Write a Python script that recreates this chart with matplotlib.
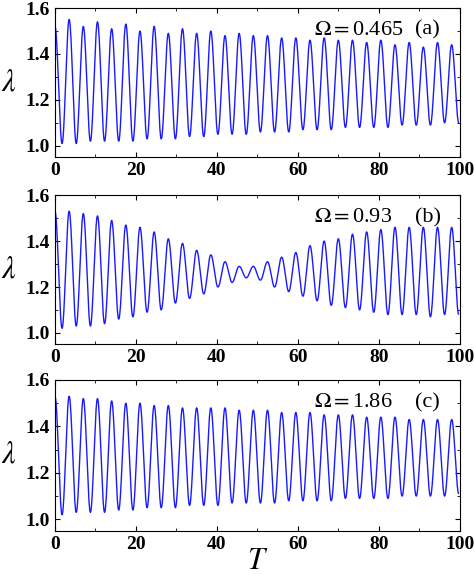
import numpy as np
import matplotlib
matplotlib.use("Agg")
import matplotlib.pyplot as plt

plt.rcParams['font.family'] = ['Liberation Serif', 'DejaVu Serif']
plt.rcParams['mathtext.fontset'] = 'stix'

period = 3.5
omegas = ["0.465", "0.93", "1.86"]
tags = ["(a)", "(b)", "(c)"]

# peak values (at T = k*period) and trough values (at T = k*period + period/2)
peaks_a = [1.52, 1.55, 1.52, 1.54, 1.51, 1.53, 1.50, 1.52, 1.49, 1.51, 1.49, 1.50, 1.48, 1.49, 1.48,
           1.48, 1.47, 1.47, 1.46, 1.47, 1.46, 1.46, 1.45, 1.46, 1.44, 1.45, 1.43, 1.45, 1.44]
troughs_a = [1.01, 1.01, 1.02, 1.02, 1.02, 1.02, 1.03, 1.03, 1.03, 1.04, 1.04, 1.05, 1.05, 1.05, 1.06,
             1.06, 1.06, 1.07, 1.07, 1.07, 1.08, 1.08, 1.08, 1.08, 1.09, 1.09, 1.09, 1.10, 1.10]
peaks_b = [1.53, 1.53, 1.52, 1.51, 1.49, 1.47, 1.46, 1.44, 1.41, 1.39, 1.36, 1.34, 1.31, 1.29, 1.29,
           1.31, 1.33, 1.35, 1.38, 1.40, 1.41, 1.43, 1.44, 1.45, 1.46, 1.46, 1.46, 1.46, 1.46]
troughs_b = [1.02, 1.03, 1.03, 1.04, 1.06, 1.07, 1.09, 1.10, 1.13, 1.15, 1.17, 1.20, 1.22, 1.24, 1.23,
             1.20, 1.18, 1.16, 1.14, 1.12, 1.11, 1.10, 1.09, 1.08, 1.08, 1.08, 1.07, 1.08, 1.08]
peaks_c = [1.53, 1.53, 1.52, 1.52, 1.51, 1.50, 1.50, 1.49, 1.49, 1.48, 1.48, 1.48, 1.48, 1.47, 1.47,
           1.47, 1.46, 1.46, 1.46, 1.45, 1.45, 1.45, 1.44, 1.44, 1.44, 1.43, 1.43, 1.43, 1.43]
troughs_c = [1.02, 1.03, 1.03, 1.03, 1.04, 1.04, 1.05, 1.05, 1.05, 1.06, 1.06, 1.06, 1.07, 1.07, 1.07,
             1.07, 1.08, 1.08, 1.08, 1.08, 1.09, 1.09, 1.09, 1.09, 1.10, 1.10, 1.10, 1.10, 1.11]


def curve(peaks, troughs):
    # alternate extrema, joined by half-cosine arcs
    ext = []
    for p, q in zip(peaks, troughs):
        ext += [p, q]
    tx = np.arange(len(ext)) * period / 2
    t_all, y_all = [], []
    for i in range(len(ext) - 1):
        s = np.linspace(0, 1, 20, endpoint=False)
        t_all.append(tx[i] + s * period / 2)
        y_all.append(ext[i] + (ext[i + 1] - ext[i]) * (1 - np.cos(np.pi * s)) / 2)
    t = np.concatenate(t_all)
    y = np.concatenate(y_all)
    keep = t <= 100
    return t[keep], y[keep]


fig = plt.figure(figsize=(4.74, 5.74), dpi=100)
boxes = [(0.116, 0.726, 0.854, 0.26), (0.116, 0.40, 0.854, 0.26), (0.116, 0.075, 0.854, 0.263)]
data = [(peaks_a, troughs_a), (peaks_b, troughs_b), (peaks_c, troughs_c)]

for i in range(3):
    ax = fig.add_axes(boxes[i])
    t, y = curve(*data[i])
    ax.plot(t, y, color='#1a1aff', lw=1.0)
    ax.set_xlim(0, 100)
    ax.set_ylim(0.95, 1.6)
    ax.set_xticks([0, 20, 40, 60, 80, 100])
    ax.set_yticks([1.0, 1.2, 1.4, 1.6])
    ax.set_xticks(np.arange(10, 100, 20), minor=True)
    ax.set_yticks([1.1, 1.3, 1.5], minor=True)
    ax.tick_params(which='both', direction='in', top=True, right=True)
    for lab in ax.get_xticklabels() + ax.get_yticklabels():
        lab.set_fontweight('bold')
        lab.set_fontsize(14)
    ax.set_ylabel(r'$\lambda$', fontsize=22, rotation=0, labelpad=12, va='center')
    ax.text(0.64, 0.82, r'$\Omega=$' + omegas[i], transform=ax.transAxes, fontsize=16)
    ax.text(0.89, 0.82, tags[i], transform=ax.transAxes, fontsize=16)
    if i == 2:
        ax.set_xlabel(r'$T$', fontsize=22, labelpad=-4)

plt.savefig("out.png", dpi=100)
